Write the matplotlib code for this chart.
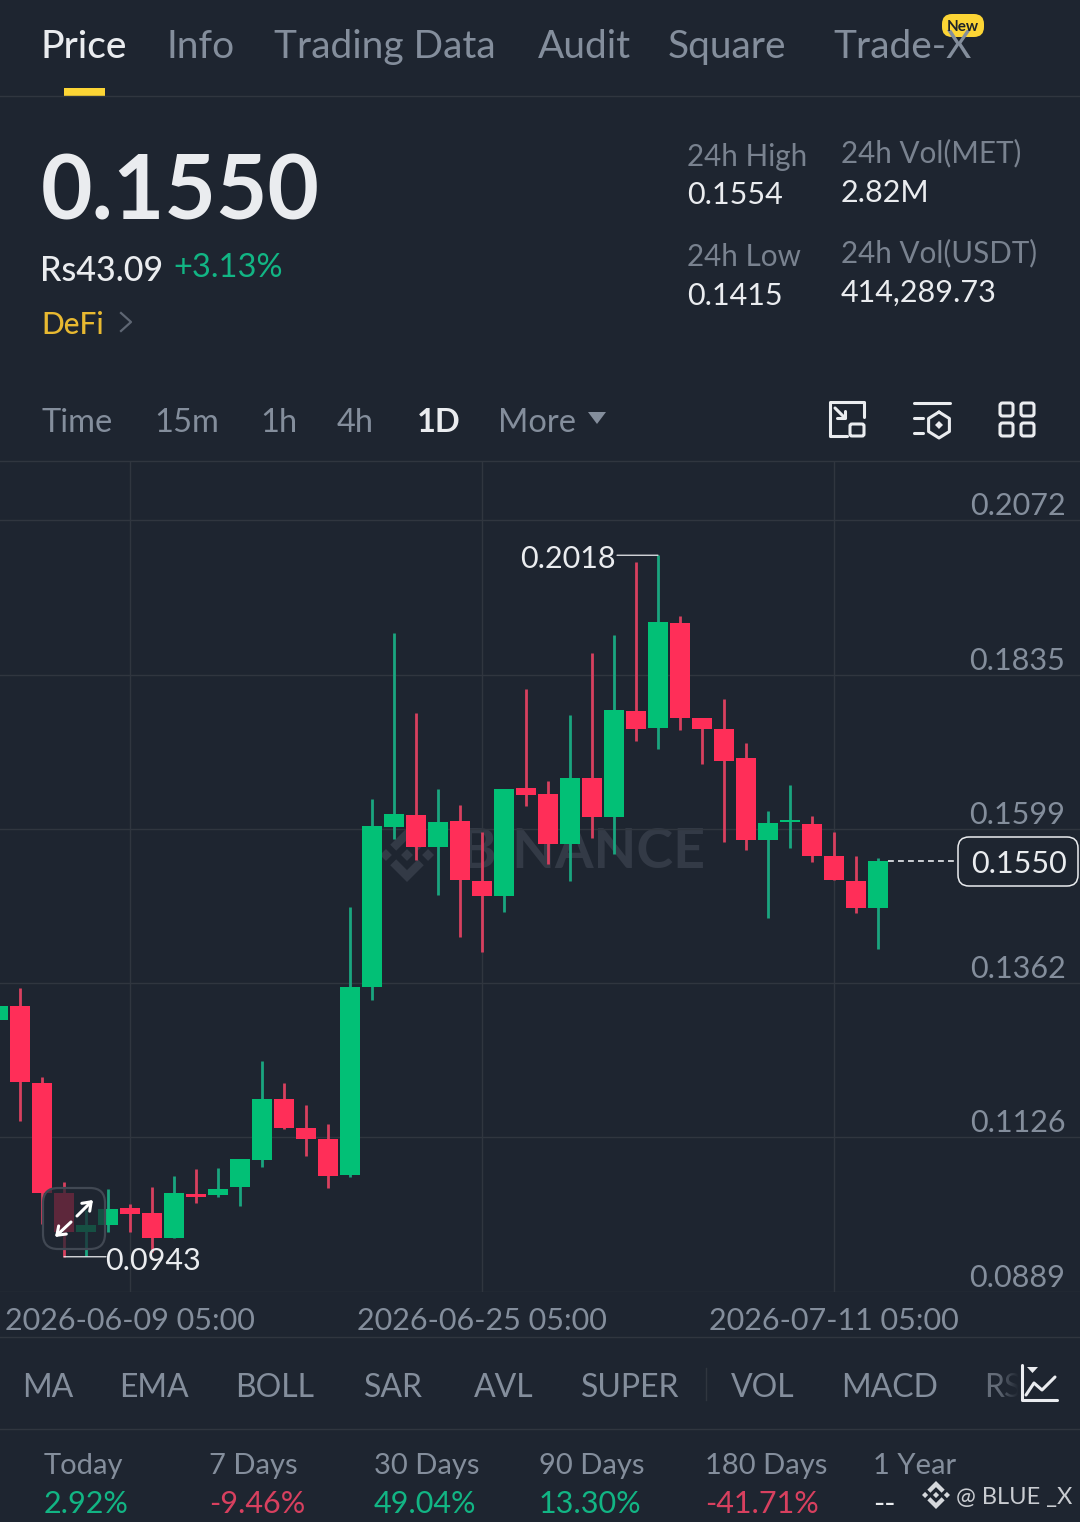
import matplotlib
matplotlib.use("Agg")
import matplotlib.pyplot as plt
import matplotlib.dates as mdates
import numpy as np
import pandas as pd
from matplotlib.patches import FancyBboxPatch, Polygon, Rectangle

plt.rcParams['font.family'] = ['Lato', 'DejaVu Sans']

# daily candles
dates = pd.date_range("2026-06-03 05:00", periods=41, freq="D")
opens = [.1306, .1327, .1209, .1041, .0981, .0992, .1018, .1010, .0972, .1039, .1038, .1050, .1091, .1185,
         .1140, .1123, .1069, .1356, .1602, .1620, .1571, .1611, .1519, .1496, .1661, .1652, .1575, .1677,
         .1617, .1779, .1753, .1914, .1769, .1752, .1707, .1582, .1609, .1606, .1557, .1519, .1477]
closes = [.1327, .1211, .1041, .0981, .0992, .1016, .1009, .0972, .1041, .1035, .1047, .1093, .1185, .1140,
          .1123, .1067, .1356, .1603, .1622, .1571, .1609, .1520, .1496, .1660, .1651, .1575, .1677, .1617,
          .1781, .1752, .1916, .1769, .1752, .1703, .1582, .1608, .1612, .1557, .1520, .1477, .1550]
highs = [.1327, .1355, .1218, .1058, .1015, .1047, .1024, .1050, .1067, .1077, .1079, .1093, .1243, .1209,
         .1175, .1146, .1479, .1645, .1899, .1776, .1660, .1635, .1594, .1660, .1813, .1672, .1773, .1868,
         .1896, .2008, .2018, .1925, .1769, .1798, .1730, .1626, .1666, .1618, .1594, .1557, .1554]
lows = [.1306, .1151, .0993, .0943, .0944, .0981, .0981, .0950, .0972, .1025, .1035, .1021, .1081, .1139,
        .1097, .1048, .1065, .1336, .1583, .1551, .1497, .1433, .1410, .1471, .1634, .1545, .1519, .1585,
        .1560, .1733, .1721, .1750, .1698, .1579, .1566, .1462, .1569, .1548, .1520, .1470, .1415]

price_ticks = [0.0889, 0.1126, 0.1362, 0.1599, 0.1835, 0.2072]
date_ticks = ["2026-06-09 05:00", "2026-06-25 05:00", "2026-07-11 05:00"]
last_price = 0.1550

tabs = ["Price", "Info", "Trading Data", "Audit", "Square", "Trade-X"]
intervals = ["Time", "15m", "1h", "4h", "1D", "More"]
indicators = ["MA", "EMA", "BOLL", "SAR", "AVL", "SUPER", "VOL", "MACD"]
periods = ["Today", "7 Days", "30 Days", "90 Days", "180 Days", "1 Year"]
period_changes = ["2.92%", "-9.46%", "49.04%", "13.30%", "-41.71%", "--"]

BG = "#1e2530"
GRID = "#30363f"
GREEN = "#02c076"
RED = "#ff2e58"
GREEN_WICK = "#1aa57f"
RED_WICK = "#d8405f"
GREY = "#848e9c"
WHITE = "#eaecef"
YELLOW = "#fcd535"

W, H = 1080, 1522
fig = plt.figure(figsize=(W / 100, H / 100), dpi=100, facecolor=BG)


def px_axes(z):
    a = fig.add_axes([0, 0, 1, 1], zorder=z)
    a.set_xlim(0, W)
    a.set_ylim(H, 0)
    a.axis("off")
    a.patch.set_alpha(0)
    return a


under = px_axes(0)
ui = px_axes(2)


def label(x, y, s, size, color, weight="normal", ha="left", target=None):
    (target or ui).text(x, y, s, fontsize=size, color=color, fontweight=weight, ha=ha, va="baseline")


def binance_logo(a, cx, cy, r, color):
    # centre diamond, four side diamonds and the chevrons
    d = r * 0.22
    for dx, dy in [(0, 0), (-r * 0.78, 0), (r * 0.78, 0)]:
        a.add_patch(Polygon([(cx + dx - d, cy + dy), (cx + dx, cy + dy - d), (cx + dx + d, cy + dy), (cx + dx, cy + dy + d)],
                            color=color, lw=0))
    for s in (-1, 1):
        a.add_patch(Polygon([(cx - r * 0.62, cy + s * r * 0.38), (cx, cy + s * r), (cx + r * 0.62, cy + s * r * 0.38),
                             (cx + r * 0.4, cy + s * r * 0.16), (cx, cy + s * r * 0.56), (cx - r * 0.4, cy + s * r * 0.16)],
                            color=color, lw=0))


# watermark sits under the candles
binance_logo(under, 407, 855, 27, "#333a46")
label(460, 868, "BINANCE", 40, "#333a46", weight="bold", target=under)

# ---- price chart ----
ax = fig.add_axes([0, (H - 1292) / H, 1, (1292 - 461) / H], zorder=1)
ax.patch.set_alpha(0)
x_dates = mdates.date2num(dates)
tick_nums = mdates.date2num(pd.to_datetime(date_ticks))
px_per_day = 22
x_left = tick_nums[0] - 130 / px_per_day
ax.set_xlim(x_left, x_left + W / px_per_day)
px_price = (price_ticks[-1] - price_ticks[0]) / (1292 - 520)
ax.set_ylim(price_ticks[0], price_ticks[-1] + (520 - 461) * px_price)

for xd, o, c, h, l in zip(x_dates, opens, closes, highs, lows):
    up = c >= o
    ax.vlines(xd, l, h, color=GREEN_WICK if up else RED_WICK, lw=2.0, zorder=3)
    ax.bar(xd, abs(c - o), bottom=min(o, c), width=20 / px_per_day, color=GREEN if up else RED, lw=0, zorder=4)

ax.set_xticks(tick_nums)
ax.set_xticklabels(date_ticks, fontsize=22, color=GREY)
ax.set_yticks(price_ticks)
ax.set_yticklabels([f"{p:.4f}" for p in price_ticks], fontsize=22, color=GREY, ha="right", va="bottom")
ax.yaxis.tick_right()
ax.tick_params(axis="y", length=0, pad=-10.5)
ax.tick_params(axis="x", length=0, pad=10.5)
ax.grid(True, color=GRID, lw=1)
ax.set_axisbelow(True)
for spine in ax.spines.values():
    spine.set_visible(False)

# high / low callouts: leader line first, then the text beside it
i_hi = int(np.argmax(highs))
i_lo = int(np.argmin(lows))
line_style = dict(arrowstyle="-", color=WHITE, lw=0.9, shrinkA=0, shrinkB=0)
ax.annotate("", xy=(x_dates[i_hi], highs[i_hi]), xytext=(-41, 0), textcoords="offset pixels", arrowprops=line_style, zorder=6)
ax.annotate("", xy=(x_dates[i_lo], lows[i_lo]), xytext=(42, 0), textcoords="offset pixels", arrowprops=line_style, zorder=6)
ax.annotate("0.2018", xy=(x_dates[i_hi], highs[i_hi]), xytext=(-42, -1), textcoords="offset pixels", fontsize=22,
            color=WHITE, ha="right", va="center_baseline", zorder=6)
ax.annotate("0.0943", xy=(x_dates[i_lo], lows[i_lo]), xytext=(41, -2), textcoords="offset pixels", fontsize=22,
            color=WHITE, ha="left", va="center_baseline", zorder=6)

# last price tag
ax.plot([x_dates[-1] + 10 / px_per_day, x_left + 958 / px_per_day], [last_price, last_price],
        color=WHITE, lw=1.2, ls=(0, (3.5, 2.5)), zorder=5)
ui.add_patch(FancyBboxPatch((958, 837), 120, 49, boxstyle="round,pad=0,rounding_size=11", fc=BG, ec=WHITE, lw=1.1))
label(1019, 873, f"{last_price:.4f}", 22, WHITE, ha="center")

# expand button over the chart
ui.add_patch(FancyBboxPatch((43, 1188), 62, 61, boxstyle="round,pad=0,rounding_size=15", fc=BG, alpha=0.72, ec="none"))
ui.add_patch(FancyBboxPatch((43, 1188), 62, 61, boxstyle="round,pad=0,rounding_size=15", fc="none", ec="#414853", lw=1.6))
ui.annotate("", xy=(93, 1200), xytext=(77, 1216), arrowprops=dict(arrowstyle="->,head_length=0.55,head_width=0.4", color="white", lw=2.2, shrinkA=0, shrinkB=0))
ui.annotate("", xy=(55, 1237), xytext=(71, 1222), arrowprops=dict(arrowstyle="->,head_length=0.55,head_width=0.4", color="white", lw=2.2, shrinkA=0, shrinkB=0))

# ---- header ----
ui.plot([0, W], [96, 96], color=GRID, lw=1)
ui.plot([0, W], [461, 461], color=GRID, lw=1)
ui.plot([0, W], [1337, 1337], color=GRID, lw=1)
ui.plot([0, W], [1429, 1429], color=GRID, lw=1)

tab_x = [40, 167, 274, 538, 668, 833]
for t, x in zip(tabs, tab_x):
    label(x, 58, t, 28, WHITE if t == "Price" else GREY, weight="medium" if t == "Price" else "normal")
ui.add_patch(Rectangle((64, 88), 41, 8, color=YELLOW, lw=0))
ui.add_patch(FancyBboxPatch((942, 14), 42, 23, boxstyle="round,pad=0,rounding_size=10", fc=YELLOW, ec="none"))
label(963, 31, "New", 11, "#1e2329", weight="bold", ha="center")

label(41, 219, "0.1550", 64, WHITE, weight="bold")
label(40, 281, "Rs43.09", 24.5, WHITE, weight="medium")
label(173, 277, "+3.13%", 23.5, "#12b584")
label(41, 334, "DeFi", 21.5, "#e8b931", weight="medium")
ui.plot([121, 131, 121], [313, 322, 331], color="#5e6673", lw=1.6)

for x, y1, y2, a_txt, b_txt in [(687, 166, 204, "24h High", "0.1554"), (687, 266, 305, "24h Low", "0.1415"),
                                (841, 162, 202, "24h Vol(MET)", "2.82M"), (841, 262, 302, "24h Vol(USDT)", "414,289.73")]:
    label(x, y1, a_txt, 21.3, "#79828f")
    label(x, y2, b_txt, 22, WHITE)

# ---- interval row ----
interval_x = [41, 154, 260, 337, 417, 498]
for t, x in zip(intervals, interval_x):
    label(x, 432, t, 23.5, WHITE if t == "1D" else GREY, weight="bold" if t == "1D" else "normal")
ui.add_patch(Polygon([(588, 412), (606, 412), (597, 424)], color=GREY, lw=0))

ic = dict(color=WHITE, lw=2.2, solid_capstyle="round", solid_joinstyle="round")
# first icon
ui.plot([847, 830, 830, 847], [402, 402, 436, 436], **ic)
ui.plot([847, 864, 864], [402, 402, 417], **ic)
ui.add_patch(FancyBboxPatch((850, 424), 14, 12, boxstyle="round,pad=0,rounding_size=2", fc="none", ec=WHITE, lw=2.2))
ui.plot([835, 845], [408, 418], **ic)
ui.plot([845, 845, 837], [411, 418, 418], **ic)
# second icon
ui.plot([914, 950], [403, 403], **ic)
ui.plot([914, 923], [418, 418], **ic)
ui.plot([914, 923], [433, 433], **ic)
ang = np.deg2rad(np.arange(-90, 271, 60))
ui.plot(939 + 12 * np.cos(ang), 425 + 13 * np.sin(ang), **ic)
ui.add_patch(Polygon([(939, 421), (943, 425), (939, 429), (935, 425)], color=WHITE, lw=0))
# third icon
for gx in (1000, 1021):
    for gy in (403, 423):
        ui.add_patch(FancyBboxPatch((gx, gy), 13, 13, boxstyle="round,pad=0,rounding_size=2.5", fc="none", ec=WHITE, lw=2.2))

# ---- indicator row ----
indicator_x = [22, 119, 235, 364, 474, 581, 731, 841]
for t, x in zip(indicators, indicator_x):
    label(x, 1397, t, 23, GREY)
ui.plot([706, 706], [1368, 1400], color=GRID, lw=1)
label(984, 1397, "RSI", 23, "#656d79")
fade = np.zeros((1, 24, 4))
fade[..., :3] = matplotlib.colors.to_rgb(BG)
fade[..., 3] = np.clip(np.linspace(0.0, 1.1, 24), 0, 1)
ui.imshow(fade, extent=(997, 1021, 1410, 1360), aspect="auto", zorder=3)
ui.add_patch(Rectangle((1020, 1360), 60, 50, color=BG, lw=0, zorder=3))
ui.set_xlim(0, W)
ui.set_ylim(H, 0)
ic2 = dict(color=WHITE, lw=2.2, solid_capstyle="round", solid_joinstyle="round", zorder=4)
ui.plot([1022, 1022, 1057], [1365, 1400, 1400], **ic2)
ui.plot([1026, 1034, 1042, 1055], [1395, 1383, 1390, 1377], **ic2)
ui.add_patch(Polygon([(1027, 1367), (1038, 1367), (1032.5, 1373)], color=WHITE, lw=0, zorder=4))

# ---- period performance ----
period_x = [44, 209, 374, 539, 705, 873]
for t, v, x in zip(periods, period_changes, period_x):
    label(x, 1474, t, 21, GREY)
    col = WHITE if v == "--" else (RED_WICK if v.startswith("-") else "#12b584")
    label(x, 1513, v, 22, col)

binance_logo(ui, 936, 1495, 14, "#d5d8dc")
label(956, 1504, "@ BLUE _X", 17, "#c9ccd1")

fig.savefig("out.png", dpi=100, facecolor=BG)
